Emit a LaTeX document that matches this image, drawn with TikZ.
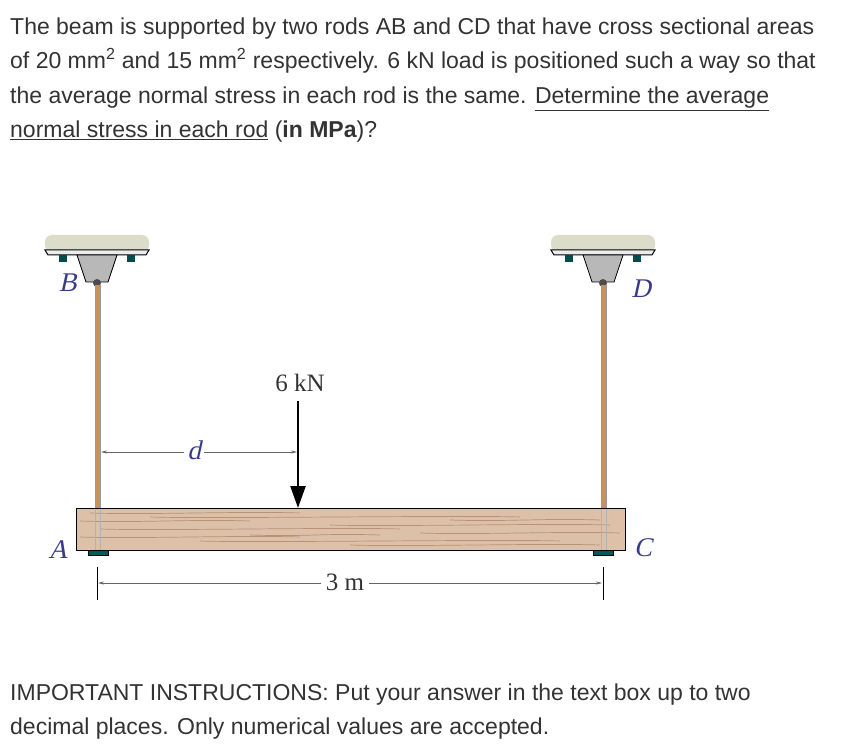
\documentclass[tikz,border=0pt]{standalone}
\usepackage{fontspec}
\setmainfont{Liberation Sans}
\newfontfamily\figfont{Liberation Serif}
\newfontfamily\figit[FakeSlant=0.22]{Liberation Serif}
\usetikzlibrary{arrows.meta}
\definecolor{txt}{HTML}{333333}
\definecolor{wood}{HTML}{DDC0A8}
\definecolor{grain}{HTML}{B89278}
\definecolor{rod}{HTML}{C8925C}
\definecolor{brk}{HTML}{B8B8B8}
\definecolor{ceil}{HTML}{DCDCCB}
\definecolor{lblblue}{HTML}{3A3A8A}
\tikzset{
  para/.style={anchor=base west,text=txt,font=\fontsize{23}{27}\selectfont,inner sep=0},
  lbl/.style={font=\figit\fontsize{27}{29}\selectfont,text=lblblue,inner sep=0},
  fig/.style={font=\figfont\fontsize{25}{27}\selectfont,text=black!80,inner sep=0},
  dimtip/.style={-{Stealth[length=6pt,width=3pt]},draw=black!60,line width=0.7pt},
}
\newcommand{\support}[1]{%
  \fill[ceil,rounded corners=7pt] (#1-52,235) rectangle (#1+52,252);
  \draw[line width=1pt,fill=gray!15] (#1-52,250) -- (#1+52,250) -- (#1+49,255) -- (#1-49,255) -- cycle;
  \fill[teal!60!black] (#1-38,255) rectangle (#1-30,262);
  \fill[teal!60!black] (#1+30,255) rectangle (#1+38,262);
  \draw[fill=brk,line width=0.8pt] (#1-20,255) -- (#1+20,255) -- (#1+11,282) -- (#1-11,282) -- cycle;
  \fill[black!70] (#1,283) circle (4);
}
\begin{document}
\begin{tikzpicture}[x=1pt,y=-1pt]
\useasboundingbox[fill=white] (0,0) rectangle (849,751);
\node[para] (l1) at (10,35) {The beam is supported by two rods AB and CD that have cross sectional areas};
\node[para] (l2) at (10,69) {of 20 mm\textsuperscript{2} and 15 mm\textsuperscript{2} respectively. 6 kN load is positioned such a way so that};
\node[para] (l3) at (10,104) {the average normal stress in each rod is the same. \underline{Determine the average}};
\node[para] (l4) at (10,138) {\underline{normal stress in each rod} (\textbf{in MPa})?};
\node[para] (l5) at (10,700) {IMPORTANT INSTRUCTIONS: Put your answer in the text box up to two};
\node[para] (l6) at (10,734) {decimal places. Only numerical values are accepted.};
\support{97}
\support{603}
\fill[rod] (95,285) rectangle (100,508);
\draw[black!40,line width=0.4pt] (95,285) -- (95,508) (100,285) -- (100,508);
\fill[rod] (601,285) rectangle (606,508);
\draw[black!40,line width=0.4pt] (601,285) -- (601,508) (606,285) -- (606,508);
\fill[wood] (76,508) rectangle (625,550);
\foreach \yy/\xa/\xb in {513/90/300,517/150/520,521/80/250,525/330/610,529/100/400,533/420/620,537/80/300,541/200/560,545/350/600,520/450/600,535/250/380}
  \draw[grain,line width=0.7pt] (\xa,\yy) .. controls (\xa+60,\yy+2) and (\xb-60,\yy-2) .. (\xb,\yy);
\foreach \xx in {95,100,601,606} \draw[gray!60,line width=0.6pt] (\xx,508) -- (\xx,550);
\draw[line width=0.9pt] (76,508) rectangle (625,550);
\fill[teal!70!black] (88,550) rectangle (108,555);
\draw[line width=0.6pt] (88,550) rectangle (108,555);
\fill[teal!70!black] (593,550) rectangle (613,555);
\draw[line width=0.6pt] (593,550) rectangle (613,555);
\node[lbl] (B) at (68,283) {B};
\node[lbl] (D) at (641,289) {D};
\node[lbl] (A) at (58,550) {A};
\node[lbl] (C) at (643,548) {C};
\coordinate (Ftop) at (298,401);
\coordinate (Fbot) at (298,508);
\node[fig] (F) at (300,383) {6 kN};
\draw[line width=2.4pt,-{Triangle[length=22pt,width=15pt]}] (Ftop) -- (Fbot);
\node[lbl] (d) at (194,450) {d};
\coordinate (dl) at (101,452);
\coordinate (dr) at (297,452);
\draw[dimtip] (d.west |- dl) ++(-3,0) -- (dl);
\draw[dimtip] (d.east |- dl) ++(3,0) -- (dr);
\coordinate (tl) at (97,567); \coordinate (tl2) at (97,600);
\coordinate (tr) at (603,567); \coordinate (tr2) at (603,600);
\draw[line width=0.8pt] (tl) -- (tl2) (tr) -- (tr2);
\node[fig] (m) at (345,582) {3 m};
\draw[dimtip] (m.west |- 0,583) ++(-5,0) -- (98,583);
\draw[dimtip] (m.east |- 0,583) ++(5,0) -- (602,583);
\end{tikzpicture}
\end{document}
